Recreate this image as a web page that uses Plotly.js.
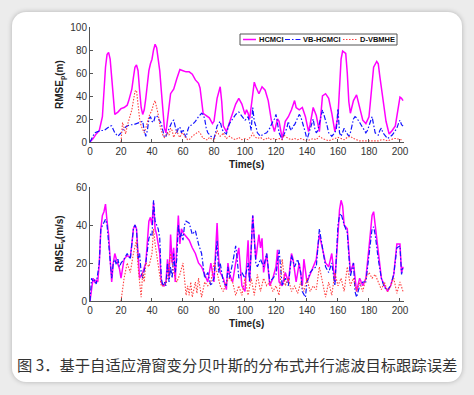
<!DOCTYPE html>
<html>
<head>
<meta charset="utf-8">
<script src="https://cdn.plot.ly/plotly-3.0.1.min.js"></script>
<style>
  html, body { margin:0; padding:0; width:474px; height:395px; background:#ececec; overflow:hidden; }
  #card { position:absolute; left:12px; top:12px; width:450px; height:370px; background:#fff;
          border-radius:14px; box-shadow:0 0 5px rgba(0,0,0,0.25); }
  #chart { position:absolute; left:0; top:0; width:474px; height:395px; }
  #caption { position:absolute; left:17px; top:356px; font-family:"Noto Sans CJK SC", sans-serif;
             font-size:15.3px; line-height:16px; color:#333; white-space:nowrap; }
</style>
</head>
<body>
<div id="card"></div>
<div id="chart"></div>
<div id="caption">图 3．基于自适应滑窗变分贝叶斯的分布式并行滤波目标跟踪误差</div>
<script>
// ---------- Data ----------
const seriesNames = ["HCMCI", "VB-HCMCI", "D-VBMHE"];
const xTickVals = [0, 20, 40, 60, 80, 100, 120, 140, 160, 180, 200];
const yTickValsP = [0, 20, 40, 60, 80, 100];
const yTickValsV = [0, 20, 40, 60];

// Position RMSE – HCMCI
const tPosH = [0,2,4,6,8,9,10,11,12,13,14,15,16,18,20,22,24,25,26,27,28,29,30,31,32,33,34,35,36,37,38,39,40,41,42,43,44,45,46,47,48,49,50,51,52,53,54,56,58,60,62,64,66,68,70,71,72,73,75,77,79,80,82,84,85,86,88,90,92,94,96,98,100,101,102,103,105,106,107,109,111,113,115,117,119,121,122,124,126,128,130,132,133,135,137,139,141,142,144,146,148,150,152,154,156,158,160,161,162,163,165,166,167,168,170,172,174,176,178,180,181,182,183,185,186,187,189,191,193,195,197,199,200,201,202];
const posH  = [0,3,7,10,22,45,65,76,78,72,55,35,24,26,29,30,32,36,40,46,56,65,67,62,45,30,24,28,38,52,62,68,72,80,85,82,72,62,45,25,12,8,20,35,42,44,46,55,63,62,61,61,59,54,51,47,35,25,23,21,16,18,38,48,35,14,9,18,25,33,38,33,24,28,25,20,40,52,48,42,48,45,36,19,9,20,18,3,18,22,28,36,30,28,30,22,9,15,30,23,9,40,42,38,25,9,22,50,72,79,77,60,35,25,36,41,30,19,16,22,36,50,65,70,68,57,35,18,7,10,14,32,39,38,36];

// Position RMSE – VB-HCMCI
const tPosVB = [0,1,2,3,5,7,9,11,13,14,15,16,18,20,22,24,26,28,30,32,34,35,36,37,38,39,40,41,42,43,44,45,46,47,48,49,50,51,52,53,54,55,56,57,58,59,60,61,62,63,64,66,68,70,72,73,74,75,76,78,80,81,82,84,85,86,88,89,90,92,94,96,98,100,101,102,103,104,105,106,107,108,110,112,114,116,118,119,120,121,122,123,124,125,126,127,128,129,130,131,132,133,135,136,137,138,139,140,141,142,143,144,145,146,147,148,149,150,151,152,153,154,156,158,159,160,161,162,163,164,165,166,167,168,169,170,171,172,174,176,178,179,180,181,182,183,184,185,186,187,188,189,190,191,192,193,194,195,196,197,198,199,200,201,202];
const posVB  = [0,3,6,8,9,10,10,12,14,14,11,8,5,8,12,14,15,15,16,17,18,10,5,10,20,22,18,17,22,23,21,18,16,10,4,5,8,12,15,18,19,12,8,12,13,8,11,7,4,10,14,15,18,22,25,24,20,12,8,5,3,8,14,18,12,9,7,12,16,20,24,26,22,19,20,22,17,10,30,18,14,8,5,7,8,12,18,20,24,14,8,5,2,6,9,12,18,12,10,14,15,18,24,22,18,14,8,2,6,10,15,20,12,8,10,15,22,28,24,18,14,8,5,8,12,29,8,5,8,12,9,7,5,8,14,20,22,21,17,12,8,10,14,18,22,15,8,7,6,10,12,8,6,4,3,4,5,6,8,10,12,16,19,15,14];

// Position RMSE – D-VBMHE
const tPosD = [20,21,22,23,24,25,26,27,28,29,30,31,32,33,34,35,36,37,38,39,40,41,42,43,44,45,46,47,48,49,50,51,52,53,54,55,56,57,58,59,60,61,62,63,64,66,68,70,71,72,73,74,75,76,77,78,79,80,81,82,83,84,85,86,87,88,89,90,92,94,96,98,100,102,104,105,106,108,110,112,114,115,116,118,120,122,124,125,126,128,130,132,134,136,138,140,142,144,146,148,150,152,154,156,158,160,162,164,166,168,170,172,174,176,178,180,182,184,186,188,190,192,194,196,198,200,202];
const posD  = [0,17,12,7,14,18,22,28,36,44,45,32,20,14,10,8,12,18,22,25,28,33,36,30,24,15,10,6,4,6,8,6,12,10,4,7,10,6,4,7,8,5,3,2,2,5,7,9,8,5,3,3,2,2,4,3,2,1,6,10,7,5,6,8,5,3,4,5,3,2,4,2,3,2,5,8,5,3,4,2,3,4,2,3,2,3,2,6,5,3,2,3,2,3,2,1,2,3,2,5,3,2,1,2,3,4,3,2,4,5,3,2,1,1,1,1,1,1,1,2,2,1,2,3,3,2,2];

// Velocity RMSE – HCMCI
const tVelH = [0,2,3,4,5,6,7,8,9,10,11,12,13,14,15,16,17,18,19,20,21,22,24,26,27,28,29,30,31,32,34,36,38,39,40,41,42,43,44,45,46,47,48,49,50,51,52,53,54,55,56,57,58,59,60,62,64,66,68,70,72,74,76,78,80,82,83,84,86,88,89,90,92,94,96,97,98,100,102,103,105,107,109,110,111,112,114,116,118,120,121,122,124,126,128,130,131,133,135,137,138,140,142,144,146,148,150,152,154,156,158,160,161,162,163,164,166,168,170,172,174,176,178,180,182,183,184,186,188,190,192,194,196,198,200,201,202];
const velH  = [0,12,10,11,10,20,38,45,47,51,42,35,22,10,20,25,22,20,17,12,18,22,24,23,30,38,40,38,25,12,15,20,42,44,40,52,38,35,30,25,10,8,8,10,22,12,35,20,28,10,30,45,30,38,36,34,32,28,25,20,18,14,10,20,10,41,22,15,12,6,20,14,10,20,28,18,8,5,32,10,45,22,35,28,33,15,25,8,12,18,27,10,8,15,10,25,22,10,20,8,22,10,14,18,22,35,28,20,18,25,10,40,48,53,50,40,38,15,20,5,12,8,12,28,45,47,40,25,12,8,5,8,14,30,30,15,18];

// Velocity RMSE – VB-HCMCI
const tVelVB = [0,1,2,3,4,6,7,8,9,10,11,12,13,14,15,16,17,18,19,20,22,24,26,27,28,29,30,31,32,33,34,36,38,39,40,41,42,43,44,45,46,47,48,49,50,51,52,53,54,55,56,57,58,59,60,61,62,64,66,68,70,72,74,76,78,80,82,83,84,86,88,89,90,92,94,95,96,98,100,102,103,105,107,108,110,112,114,116,118,120,122,124,126,128,130,132,134,136,137,139,140,142,144,146,148,150,152,154,156,158,160,161,162,164,166,168,170,171,172,174,176,178,180,182,183,184,186,188,190,192,194,196,198,200,201,202];
const velVB  = [0,12,10,11,9,20,38,40,41,43,40,30,20,12,20,22,19,22,18,20,22,25,22,30,38,40,38,22,25,15,12,20,33,35,34,53,42,40,38,33,12,8,10,8,20,10,18,12,25,15,22,40,33,36,32,40,42,41,35,37,30,25,12,15,8,12,32,15,20,10,8,18,12,20,29,22,12,15,12,20,10,45,20,18,22,18,25,10,12,14,27,8,12,8,24,18,22,15,5,2,10,15,17,18,38,28,18,15,20,8,40,45,46,40,36,13,20,5,2,8,10,10,25,38,39,35,22,12,7,6,8,14,28,29,14,18];

// Velocity RMSE – D-VBMHE
const tVelD = [20,22,24,26,28,30,31,32,33,34,35,36,38,40,41,42,44,46,48,50,52,54,56,58,60,61,62,63,64,65,66,68,69,70,72,74,76,78,80,82,84,86,88,90,92,94,96,98,100,102,104,106,108,110,112,114,116,118,120,122,124,126,128,130,132,134,136,138,140,142,144,146,148,150,152,154,156,158,160,162,164,166,168,170,172,174,176,178,180,182,184,186,188,190,192,194,196,198,200,202];
const velD  = [0,12,20,15,25,32,18,10,2,15,10,20,18,25,38,30,18,8,8,12,25,15,10,14,20,10,3,8,3,10,2,10,4,12,2,10,8,10,20,15,8,5,10,12,10,3,8,3,12,3,12,3,14,5,12,8,10,5,8,3,22,8,12,5,8,4,10,5,12,5,8,6,18,10,2,10,3,15,8,12,5,18,8,12,5,10,5,12,15,12,14,10,6,10,5,8,12,4,10,5];

// ---------- Styles ----------
const colH = "#ff00ff", colVB = "#1414ff", colD = "#ff4040";
const dashVB = "5px,2px,1.5px,2px", dashD = "1.5px,1.5px";
const tickFont = {family:"Liberation Sans, Arial, sans-serif", size:10, color:"#333"};
const titleFont = {family:"Liberation Sans, Arial, sans-serif", size:10, color:"#222"};
const legFont = {family:"Liberation Sans, Arial, sans-serif", size:7.5, color:"#111"};
const W = 474, H = 395;
const px = v => v / W, py = v => 1 - v / H;

function trace(x, y, name, color, dash, width, xa, ya) {
  return {x, y, name, type:"scatter", mode:"lines", xaxis:xa, yaxis:ya,
          line:{color, dash, width}, showlegend:false, hoverinfo:"skip"};
}

const data = [
  trace(tPosH, posH, seriesNames[0], colH, "solid", 1.5, "x", "y"),
  trace(tPosVB, posVB, seriesNames[1], colVB, dashVB, 1.2, "x", "y"),
  trace(tPosD, posD, seriesNames[2], colD, dashD, 1.1, "x", "y"),
  trace(tVelH, velH, seriesNames[0], colH, "solid", 1.5, "x2", "y2"),
  trace(tVelVB, velVB, seriesNames[1], colVB, dashVB, 1.2, "x2", "y2"),
  trace(tVelD, velD, seriesNames[2], colD, dashD, 1.1, "x2", "y2")
];

const axBase = {showline:true, linecolor:"#555", linewidth:1, ticks:"inside", ticklen:3,
  tickcolor:"#555", showgrid:false, zeroline:false, tickfont:tickFont, fixedrange:true};

const xDom = [px(90), px(404)];
function legText(i, x) {
  return {text:"<b>" + seriesNames[i] + "</b>", xref:"paper", yref:"paper", x:px(x), y:py(39.5),
          showarrow:false, xanchor:"left", yanchor:"middle", font:legFont};
}
const layout = {
  width:W, height:H, margin:{l:0, r:0, t:0, b:0},
  paper_bgcolor:"rgba(0,0,0,0)", plot_bgcolor:"rgba(0,0,0,0)",
  xaxis: Object.assign({}, axBase, {domain:xDom, range:[0,202.6], tickvals:xTickVals, anchor:"y"}),
  yaxis: Object.assign({}, axBase, {domain:[py(142), py(27)], range:[0,100], tickvals:yTickValsP, anchor:"x"}),
  xaxis2: Object.assign({}, axBase, {domain:xDom, range:[0,202.6], tickvals:xTickVals, anchor:"y2"}),
  yaxis2: Object.assign({}, axBase, {domain:[py(301), py(187)], range:[0,60], tickvals:yTickValsV, anchor:"x2"}),
  shapes: [
    {type:"rect", xref:"paper", yref:"paper", x0:px(240), x1:px(397), y0:py(45), y1:py(34),
     line:{color:"#555", width:1}, fillcolor:"#fff", layer:"below"},
    {type:"line", xref:"paper", yref:"paper", x0:px(243), x1:px(256), y0:py(39.5), y1:py(39.5), line:{color:colH, width:1.5}},
    {type:"line", xref:"paper", yref:"paper", x0:px(285), x1:px(301), y0:py(39.5), y1:py(39.5), line:{color:colVB, width:1.2, dash:dashVB}},
    {type:"line", xref:"paper", yref:"paper", x0:px(343), x1:px(358), y0:py(39.5), y1:py(39.5), line:{color:colD, width:1.1, dash:dashD}}
  ],
  annotations: [
    {text:"<b>Time(s)</b>", xref:"paper", yref:"paper", x:px(246), y:py(164), showarrow:false, font:titleFont, xanchor:"center", yanchor:"middle"},
    {text:"<b>Time(s)</b>", xref:"paper", yref:"paper", x:px(246), y:py(323), showarrow:false, font:titleFont, xanchor:"center", yanchor:"middle"},
    {text:"<b>RMSE<sub>p</sub>(m)</b>", xref:"paper", yref:"paper", x:px(60), y:py(85), showarrow:false, textangle:-90, font:titleFont, xanchor:"center", yanchor:"middle"},
    {text:"<b>RMSE<sub>v</sub>(m/s)</b>", xref:"paper", yref:"paper", x:px(60), y:py(244), showarrow:false, textangle:-90, font:titleFont, xanchor:"center", yanchor:"middle"},
    legText(0, 257), legText(1, 300.5), legText(2, 357.5)
  ]
};

Plotly.newPlot("chart", data, layout, {staticPlot:true, displayModeBar:false});
</script>
</body>
</html>
